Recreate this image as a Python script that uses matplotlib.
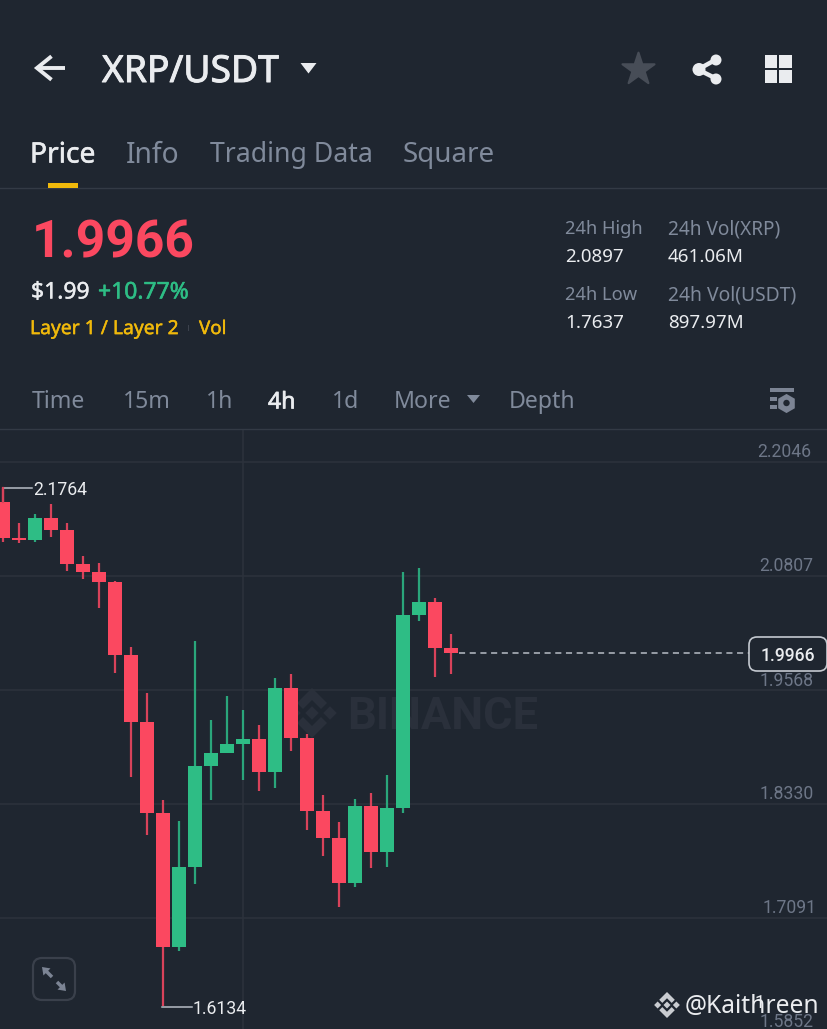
import matplotlib
matplotlib.use("Agg")
import matplotlib.pyplot as plt
import matplotlib.patheffects as pe
from matplotlib.patches import Polygon, Circle, Rectangle, FancyBboxPatch, FancyArrow

# ---------- data ----------
opens = [2.1608, 2.1225, 2.1195, 2.1441, 2.1307, 2.0941, 2.0850, 2.0745, 1.9952, 1.9217,
         1.8231, 1.6775, 1.7644, 1.8739, 1.8883, 1.8981, 1.9036, 1.8677, 1.9590, 1.9046,
         1.8253, 1.7956, 1.7471, 1.8307, 1.7811, 1.8282, 2.0386, 2.0524, 2.0025]
closes = [2.1225, 2.1195, 2.1441, 2.1307, 2.0941, 2.0850, 2.0745, 1.9952, 1.9217, 1.8231,
          1.6775, 1.7644, 1.8739, 1.8883, 1.8981, 1.9036, 1.8677, 1.9590, 1.9046, 1.8253,
          1.7956, 1.7471, 1.8307, 1.7811, 1.8282, 2.0386, 2.0524, 2.0025, 1.9966]
highs = [2.1764, 2.1386, 2.1481, 2.1589, 2.1380, 2.1024, 2.0948, 2.0753, 2.0039, 1.9535,
         1.8373, 1.8144, 2.0104, 1.9242, 1.9500, 1.9351, 1.9188, 1.9698, 1.9745, 1.9090,
         1.8427, 1.8130, 1.8380, 1.8445, 1.8644, 2.0854, 2.0897, 2.0568, 2.0173]
lows = [2.1173, 2.1162, 2.1173, 2.1231, 2.0865, 2.0778, 2.0456, 1.9756, 1.8619, 1.7995,
        1.6134, 1.6731, 1.7463, 1.8376, 1.8878, 1.8590, 1.8474, 1.8506, 1.8902, 1.8050,
        1.7764, 1.7213, 1.7430, 1.7637, 1.7644, 1.8231, 2.0321, 1.9706, 1.9745]
grid_prices = [2.2046, 2.0807, 1.9568, 1.8330, 1.7091, 1.5852]
last_price = 1.9966
tabs = ["Price", "Info", "Trading Data", "Square"]
intervals = ["Time", "15m", "1h", "4h", "1d", "More", "Depth"]

# ---------- colours ----------
BG = "#1f2630"
GRID = "#2c323c"
GREEN = "#2ebd85"
RED = "#fb4860"
WICK_G = "#2aa67b"
WICK_R = "#d8425a"
WHITE = "#eaecef"
GRAY = "#808a9b"
YEL = "#f0b90b"
MARK = "#2a303b"

W, H = 828, 1029
fig = plt.figure(figsize=(W / 100, H / 100), dpi=100, facecolor=BG)
plt.rcParams["font.family"] = ["Noto Sans", "DejaVu Sans"]


def thick(art, w=0.5):
    art.set_path_effects([pe.withStroke(linewidth=w, foreground=art.get_color())])
    return art


# ---------- watermark layer, below the candles ----------
wm = fig.add_axes([0, 0, 1, 1], facecolor=BG, zorder=0)
wm.set_xlim(0, W)
wm.set_ylim(H, 0)
wm.axis("off")

# ---------- chart axes (y 430..1029 px) ----------
PX_PER = 920.1
ax = fig.add_axes([0, 0, 1, (H - 430) / H], facecolor="none", zorder=1)
for s in ax.spines.values():
    s.set_visible(False)
ax.set_yticks(grid_prices)
ax.set_xticks([15])
ax.set_xlim(-3 / 16, (W - 3) / 16)
ax.set_ylim(2.0807 - (1029 - 576) / PX_PER, 2.0807 + (576 - 430) / PX_PER)
ax.tick_params(length=0, labelleft=False, labelbottom=False)
ax.grid(True, color=GRID, lw=1.2, zorder=0)
ax.set_axisbelow(True)

xs = list(range(len(opens)))
up = [c > o for o, c in zip(opens, closes)]
ax.vlines(xs, lows, highs, colors=[WICK_G if u else WICK_R for u in up], lw=1.6, zorder=3)
ax.bar(xs, [abs(c - o) for o, c in zip(opens, closes)],
       bottom=[min(o, c) for o, c in zip(opens, closes)],
       width=14 / 16, color=[GREEN if u else RED for u in up], linewidth=0, zorder=4)

right_off = [-17, -15, -14, -14, -11, -14]
for p, r in zip(grid_prices, right_off):
    ax.annotate(f"{p:.4f}", (1, p), xycoords=("axes fraction", "data"),
                xytext=(r * 0.72, 9.5 * 0.72), textcoords="offset points",
                ha="right", va="center", color="#6d7687", fontsize=12.7,
                family="Roboto", annotation_clip=False, zorder=6)

ax.hlines(last_price, xs[-1] + 0.5, (749 - 3) / 16, colors="#b7bdc6", lw=1.1,
          linestyles=(0, (4, 3)), zorder=5)

# ---------- overlay in pixel units ----------
ui = fig.add_axes([0, 0, 1, 1], facecolor="none", zorder=2)
ui.set_xlim(0, W)
ui.set_ylim(H, 0)
ui.axis("off")


def txt(x, y, s, color=WHITE, size=14, ha="left", weight="normal", family="Noto Sans"):
    off = size * (0.15 if family == "Noto Sans" else 0.1)
    return ui.text(x, y + off, s, color=color, fontsize=size, ha=ha, va="center",
                   fontweight=weight, family=family)


def logo(target, cx, cy, r, color, z=1):
    d = r * 0.27
    for dx, dy in [(0, 0), (-r * 0.72, 0), (r * 0.72, 0)]:
        target.add_patch(Polygon([(cx + dx - d, cy + dy), (cx + dx, cy + dy - d),
                                  (cx + dx + d, cy + dy), (cx + dx, cy + dy + d)],
                                 fc=color, ec="none", zorder=z))
    for sgn in (-1, 1):
        target.add_patch(Polygon([(cx, cy + sgn * r), (cx + r * 0.6, cy + sgn * r * 0.4),
                                  (cx + r * 0.36, cy + sgn * r * 0.16), (cx, cy + sgn * r * 0.52),
                                  (cx - r * 0.36, cy + sgn * r * 0.16), (cx - r * 0.6, cy + sgn * r * 0.4)],
                                 fc=color, ec="none", zorder=z))


# header
ui.plot([37, 65], [68, 68], color=WHITE, lw=2.8, solid_capstyle="butt")
ui.plot([50, 37, 50], [57.5, 68, 78.5], color=WHITE, lw=2.8, solid_joinstyle="miter")
thick(txt(102, 69, "XRP/USDT", size=26.8), 0.7)
ui.add_patch(Polygon([(300.5, 63), (316.5, 63), (308.5, 73.5)], fc=WHITE, ec="none"))
ui.scatter([638], [69], marker="*", s=590, color="#474d57", linewidths=1.5, edgecolors="#474d57")
ui.plot([717, 698, 717], [59, 69.5, 79], color=WHITE, lw=3.2)
for cx, cy, r in [(716, 60, 5.5), (699, 69.5, 6.5), (716, 79, 5.5)]:
    ui.add_patch(Circle((cx, cy), r, fc=WHITE, ec="none"))
for x0, y0, w, h in [(765, 55, 12.5, 13), (779, 55, 13, 13), (765, 70, 12.5, 12.5), (779, 70, 13, 12.5)]:
    ui.add_patch(Rectangle((x0, y0), w, h, fc=WHITE, ec="none"))

# tabs
for x, s, c, sz in zip([30, 126, 210, 403], tabs, [WHITE, GRAY, GRAY, GRAY], [20.3, 20.3, 19.2, 20]):
    t = txt(x, 152, s, color=c, size=sz)
    if s == "Price":
        thick(t, 0.4)
ui.add_patch(Rectangle((48, 183), 30, 5, fc=YEL, ec="none", zorder=3))
ui.plot([0, W], [188, 188], color="#333a45", lw=1)

# price block
txt(32, 240, "1.9966", color=RED, size=37.2, weight="bold", family="Roboto")
thick(txt(31, 290, "$1.99", size=16.5), 0.3)
thick(txt(98, 290, "+10.77%", color=GREEN, size=16.5), 0.4)
thick(txt(30, 327, "Layer 1 / Layer 2", color=YEL, size=13.9), 0.3)
ui.add_patch(Rectangle((188, 325), 1.5, 6, fc="#3c424d", ec="none"))
thick(txt(199, 327, "Vol", color=YEL, size=13.5), 0.3)
txt(565, 227, "24h High", color=GRAY, size=13.2)
txt(565, 255, "2.0897", size=13.5)
txt(565, 293, "24h Low", color=GRAY, size=13.2)
txt(565, 321, "1.7637", size=13.5)
txt(668, 227, "24h Vol(XRP)", color=GRAY, size=13.7)
txt(668, 255, "461.06M", size=13.5)
txt(668, 293, "24h Vol(USDT)", color=GRAY, size=13.9)
txt(668, 321, "897.97M", size=13.5)

# interval row
for x, s in zip([32, 123, 206, 268, 332, 394, 509], intervals):
    t = txt(x, 400, s, color=WHITE if s == "4h" else GRAY, size=16.6)
    if s == "4h":
        thick(t, 0.5)
ui.add_patch(Polygon([(467, 395), (480, 395), (473.5, 403)], fc=GRAY, ec="none"))
IC = "#7c8494"
ui.add_patch(Rectangle((770, 388), 24, 4, fc=IC, ec="none"))
ui.add_patch(Rectangle((770, 397), 7, 4, fc=IC, ec="none"))
ui.add_patch(Rectangle((770, 405), 7, 4, fc=IC, ec="none"))
ui.scatter([786.5], [403], marker="h", s=190, color=IC, linewidths=0)
ui.add_patch(Circle((786.5, 403), 3.2, fc=BG, ec="none", zorder=5))
ui.plot([0, W], [428.5, 428.5], color="#333a45", lw=1)

# watermark
logo(wm, 312, 713, 25, MARK)
wm.text(347, 717, "BINANCE", color=MARK, fontsize=32.5, fontweight="bold",
        family="Roboto", va="center")

# extrema labels
ui.plot([3, 3, 32], [495, 488, 488], color="#b7bdc6", lw=1.1)
ui.plot([3, 3], [488, 502], color=WICK_R, lw=1.6)
txt(33, 489, "2.1764", size=12.7, family="Roboto")
ui.plot([162, 192], [1006.5, 1006.5], color="#b7bdc6", lw=1.1)
txt(193, 1008, "1.6134", size=12.7, family="Roboto")

# current price box
ui.add_patch(FancyBboxPatch((753, 641), 70, 26, boxstyle="round,pad=4,rounding_size=8",
                            fc=BG, ec="#c4c9d0", lw=1.2, zorder=6))
t = txt(787.5, 655, "1.9966", size=12.7, ha="center", family="Roboto", weight="medium")
t.set_zorder(7)

# expand button
ui.add_patch(FancyBboxPatch((38, 963), 32, 32, boxstyle="round,pad=5,rounding_size=9",
                            fc="none", ec="#3a404b", lw=1.6))
ui.add_patch(FancyArrow(52, 977, -10, -10, width=3.5, head_width=10, head_length=7,
                        length_includes_head=True, fc=IC, ec="none"))
ui.add_patch(FancyArrow(57, 982, 9, 9, width=3.5, head_width=10, head_length=7,
                        length_includes_head=True, fc=IC, ec="none"))

# signature
logo(ui, 667, 1005, 13, "#c9ccd1", z=8)
s = txt(685, 1004, "@Kaithreen", color=WHITE, size=17.7)
s.set_zorder(8)
o = txt(760, 1002, "1", color=WHITE, size=13, ha="center", family="Roboto")
o.set_zorder(8)

fig.savefig("out.png", dpi=100, facecolor=BG)
